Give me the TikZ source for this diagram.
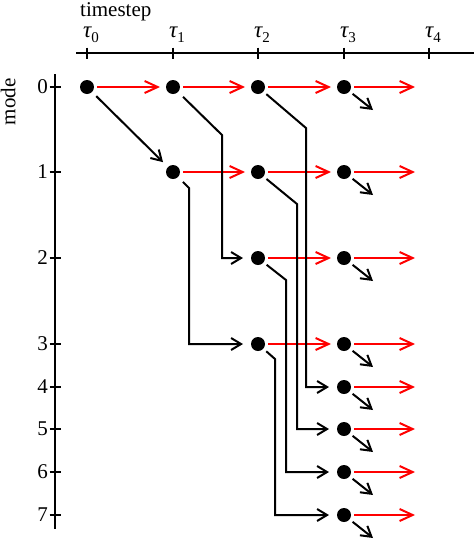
\documentclass[tikz,border=0pt]{standalone}
\usepackage{fontspec}
\setmainfont{Liberation Serif}
\usetikzlibrary{arrows.meta,calc}
\newcommand{\tlab}[1]{{\itshape τ}\raisebox{-5pt}{\fontsize{15}{16}\selectfont #1}}
\begin{document}
\begin{tikzpicture}[x=1pt,y=-1pt,
  dot/.style={circle,fill=black,inner sep=0pt,minimum size=14pt,outer sep=3pt},
  axis/.style={line width=2pt},
  tick/.style={line width=2pt},
  redarr/.style={red,line width=2pt,-{Straight Barb[length=13pt,width=12pt,line width=2pt]}},
  blkarr/.style={black,line width=2pt,-{Straight Barb[length=10pt,width=12pt,line width=2pt]}},
  lbl/.style={inner sep=0pt,font=\fontsize{21}{24}\selectfont}]
\useasboundingbox (0,0) rectangle (474,539);
% axes
\coordinate (hxs) at (76,53);
\coordinate (hxe) at (474,53);
\draw[axis] (hxs) -- (hxe);
\coordinate (vys) at (55,74);
\coordinate (vye) at (55,529);
\draw[axis] (vys) -- (vye);
\node[lbl,anchor=base west] (ts) at (80,16) {timestep};
\node[lbl,anchor=base,rotate=90] (md) at (15.5,102) {mode};
\foreach \i/\x in {0/87,1/173,2/258,3/344,4/429}{
  \draw[tick] (\x,47.5) -- (\x,59);
  \node[lbl,anchor=base west,font=\fontsize{23}{24}\selectfont] (t\i) at (\x-4,37) {\tlab{\i}};
}
\foreach \m/\y in {0/87,1/172,2/258,3/344,4/387,5/429,6/472,7/515}{
  \draw[tick] (49.5,\y) -- (61,\y);
  \node[lbl,anchor=east] (m\m) at (48,\y) {\m};
}
% dots
\node[dot] (d00) at (87,87) {};
\node[dot] (d10) at (173,87) {};
\node[dot] (d20) at (258,87) {};
\node[dot] (d30) at (344,87) {};
\node[dot] (d11) at (173,172) {};
\node[dot] (d21) at (258,172) {};
\node[dot] (d31) at (344,172) {};
\node[dot] (d22) at (258,258) {};
\node[dot] (d32) at (344,258) {};
\node[dot] (d23) at (258,344) {};
\node[dot] (d33) at (344,344) {};
\node[dot] (d34) at (344,387) {};
\node[dot] (d35) at (344,429) {};
\node[dot] (d36) at (344,472) {};
\node[dot] (d37) at (344,515) {};
% red arrows
\draw[redarr,shorten >=3pt] (d00) -- (d10);
\draw[redarr,shorten >=3pt] (d10) -- (d20);
\draw[redarr,shorten >=3pt] (d20) -- (d30);
\draw[redarr,shorten >=3pt] (d11) -- (d21);
\draw[redarr,shorten >=3pt] (d21) -- (d31);
\draw[redarr,shorten >=3pt] (d22) -- (d32);
\draw[redarr,shorten >=3pt] (d23) -- (d33);
\foreach \m/\y in {0/87,1/172,2/258,3/344,4/387,5/429,6/472,7/515}{
  \coordinate (e\m) at (429,\y);
  \draw[redarr,shorten >=14pt] (d3\m) -- (e\m);
  \coordinate (s\m) at ($(d3\m)+(29,23)$);
  \draw[blkarr,shorten <=1pt] (d3\m) -- (s\m);
}
% black arrows
\draw[blkarr,shorten <=3pt,shorten >=4pt] (d00) -- (d11);
\coordinate (c1) at (222,135);
\draw[blkarr,shorten <=4pt,shorten >=5pt] (d10) -- (c1) |- (d22);
\coordinate (c2) at (306,128);
\draw[blkarr,shorten <=1pt,shorten >=5pt] (d20) -- (c2) |- (d34);
\coordinate (c3) at (189,188);
\draw[blkarr,shorten <=4pt,shorten >=5pt] (d11) -- (c3) |- (d23);
\coordinate (c4) at (297,204);
\draw[blkarr,shorten <=1pt,shorten >=5pt] (d21) -- (c4) |- (d35);
\coordinate (c5) at (286,280);
\draw[blkarr,shorten <=1pt,shorten >=5pt] (d22) -- (c5) |- (d36);
\coordinate (c6) at (275,359);
\draw[blkarr,shorten <=1pt,shorten >=5pt] (d23) -- (c6) |- (d37);
\end{tikzpicture}
\end{document}
